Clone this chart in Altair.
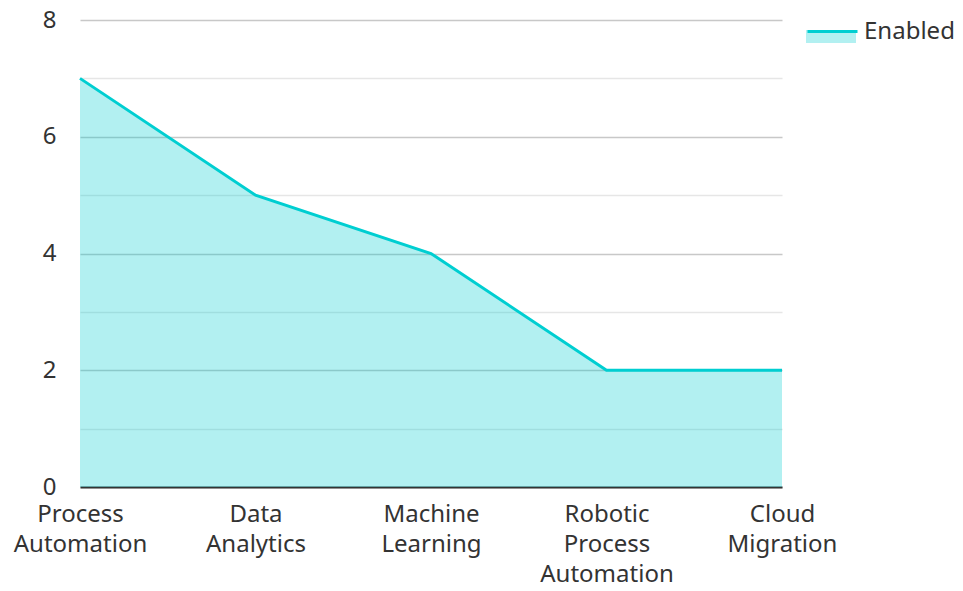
import altair as alt
import pandas as pd

categories = ["Process Automation", "Data Analytics", "Machine Learning",
              "Robotic Process Automation", "Cloud Migration"]
values = [7, 5, 4, 2, 2]
series_name = "Enabled"
y_ticks = [0, 1, 2, 3, 4, 5, 6, 7, 8]

df = pd.DataFrame({
    "category": categories,
    "value": values,
    "series": [series_name] * len(categories),
    "series_fill": [series_name] * len(categories),
})

TEAL = "#00CED1"
FONT = "Noto Sans"
TEXT = "#333333"

x_enc = alt.X(
    "category:N", sort=categories,
    scale=alt.Scale(type="point", padding=0),
    axis=alt.Axis(title=None, labelAngle=0, labelExpr="split(datum.label, ' ')",
                  labelFontSize=24, labelColor=TEXT, labelFont=FONT,
                  labelLineHeight=30, labelPadding=15, ticks=False, grid=False,
                  domain=True, domainColor="#333333", domainWidth=2),
)
y_enc = alt.Y(
    "value:Q",
    scale=alt.Scale(domain=[0, 8], nice=False),
    axis=alt.Axis(title=None, values=y_ticks, format="d",
                  labelExpr="datum.value % 2 === 0 ? datum.label : ''",
                  labelFontSize=24, labelColor=TEXT, labelFont=FONT,
                  labelPadding=24, ticks=False, domain=False, grid=True,
                  gridColor={"condition": {"test": "datum.value % 2 === 0", "value": "#c8c8c8"},
                             "value": "#e6e6e6"},
                  gridWidth=1.5),
)

area = alt.Chart(df).mark_area(opacity=0.3).encode(
    x=x_enc, y=y_enc,
    fill=alt.Fill("series_fill:N", scale=alt.Scale(range=[TEAL]),
                  legend=alt.Legend(title=None, orient="none", legendX=726, legendY=-15,
                                    symbolType="M-1,0H1V0.52H-1Z", symbolSize=2500,
                                    symbolStrokeWidth=0, symbolOpacity=0.3,
                                    labelFontSize=24, labelColor=TEXT, labelFont=FONT,
                                    labelOffset=5, labelOpacity=0, padding=0)),
)

line = alt.Chart(df).mark_line(strokeWidth=3).encode(
    x=alt.X("category:N", sort=categories),
    y=alt.Y("value:Q"),
    stroke=alt.Stroke("series:N", scale=alt.Scale(range=[TEAL]),
                      legend=alt.Legend(title=None, orient="none", legendX=726, legendY=-15,
                                        symbolType="stroke", symbolSize=2500,
                                        symbolStrokeWidth=3,
                                        labelFontSize=24, labelColor=TEXT, labelFont=FONT,
                                        labelOffset=5, padding=0)),
)

chart = alt.layer(area, line).properties(
    width=702, height=467,
    autosize=alt.AutoSizeParams(type="none"),
    padding={"left": 72, "top": 12, "right": 173, "bottom": 96},
).configure(font=FONT, view=alt.ViewConfig(stroke=None))

chart.save("out.html", embed_options={"renderer": "svg", "actions": False})
